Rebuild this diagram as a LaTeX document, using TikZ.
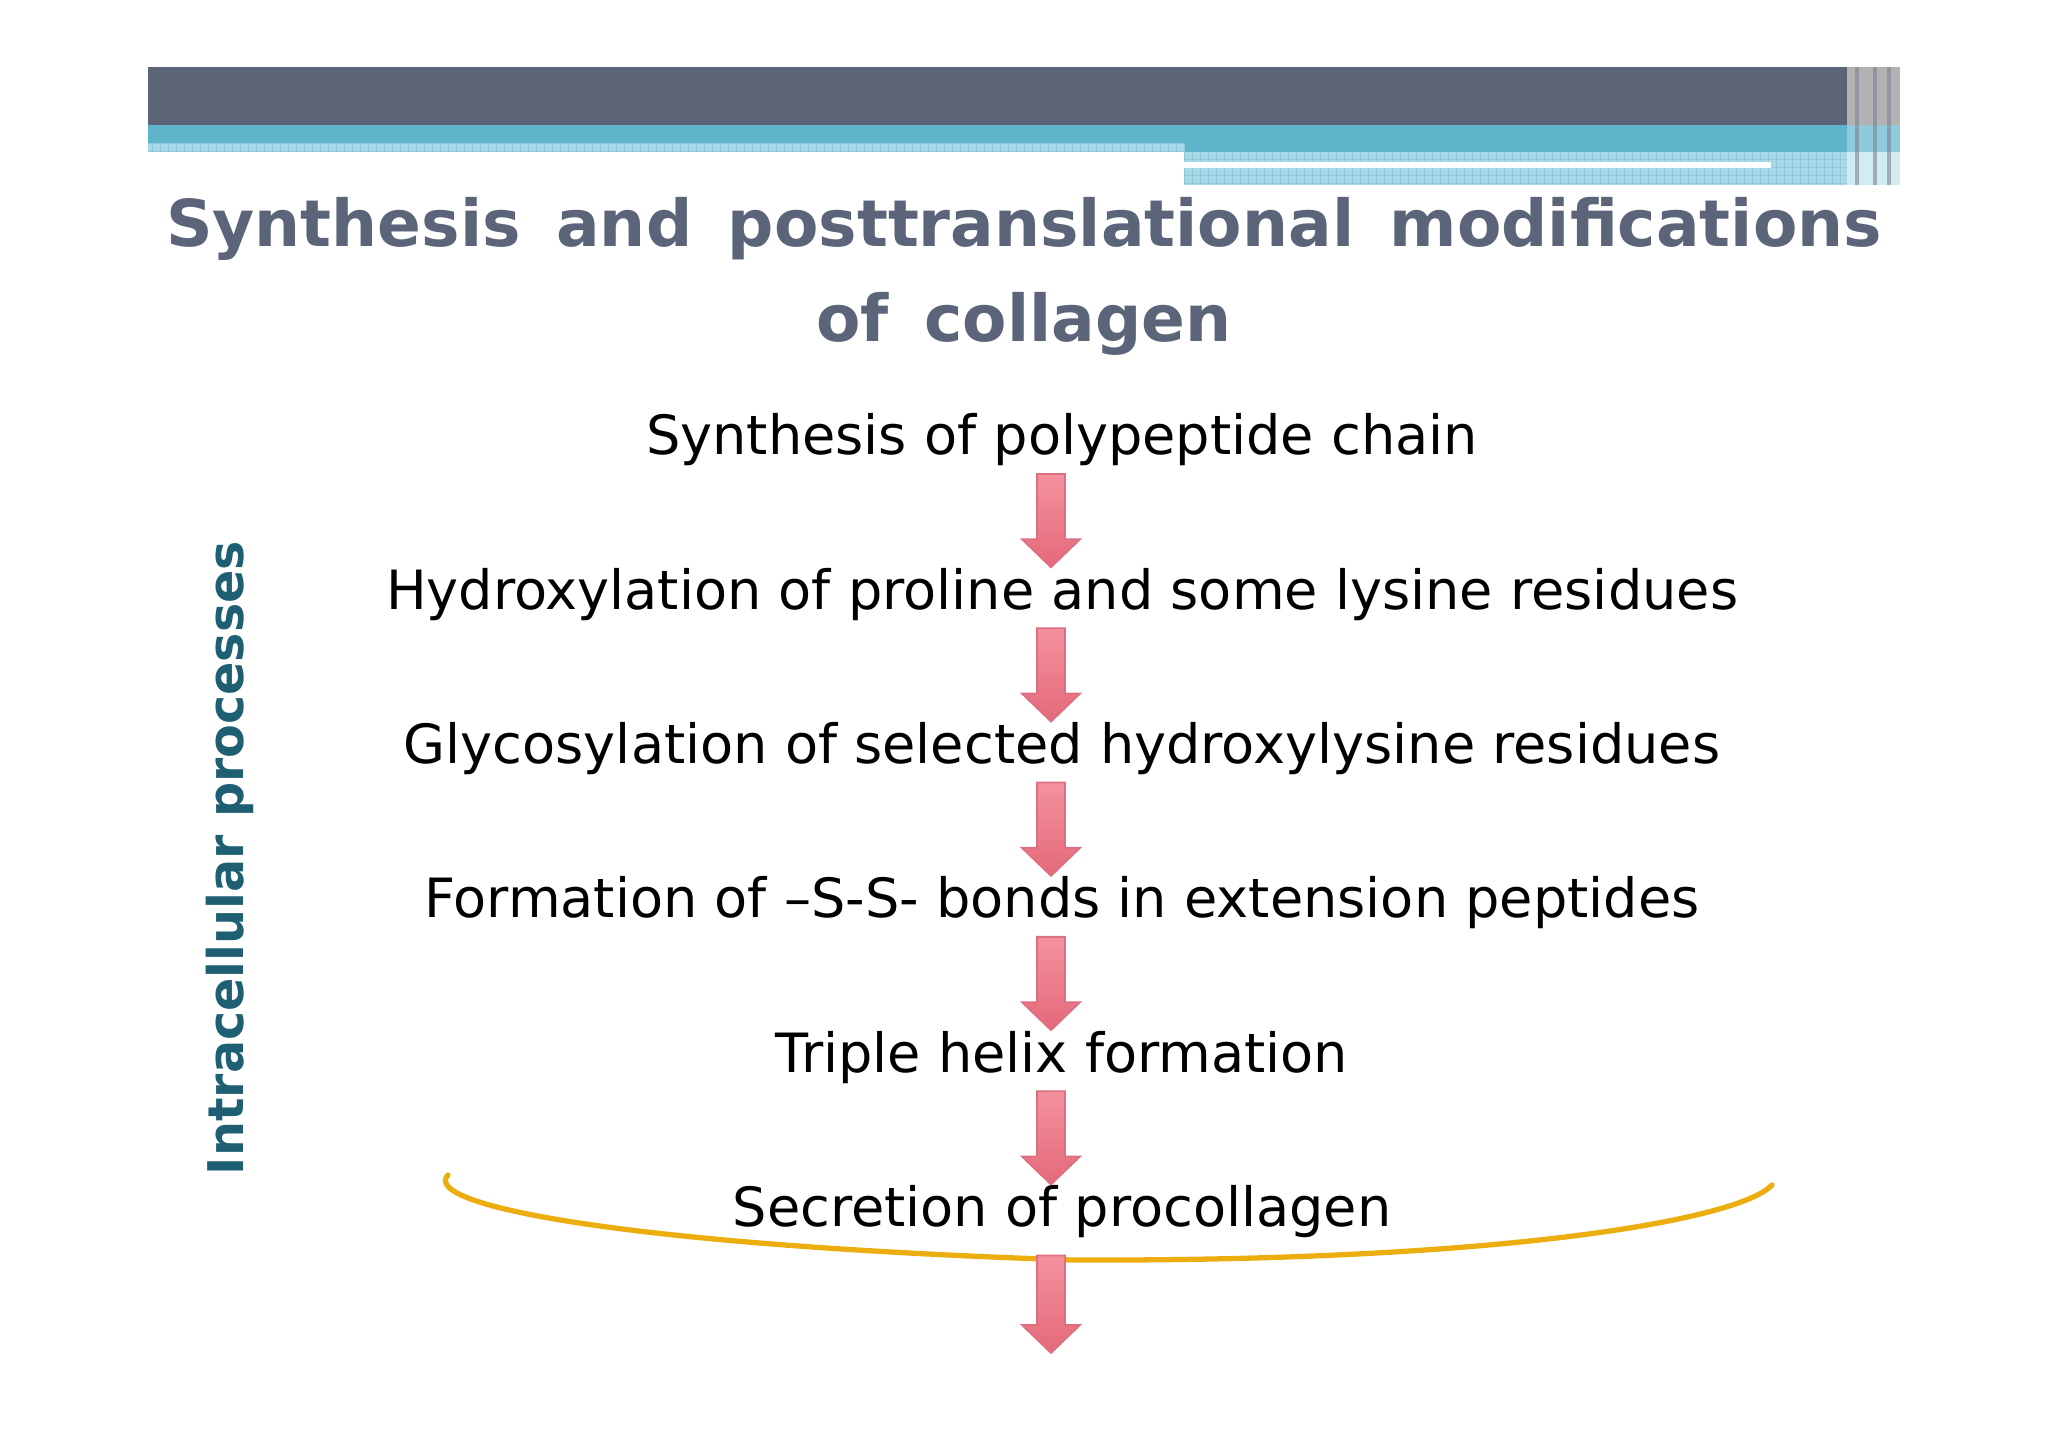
\documentclass[tikz,border=0pt]{standalone}
\usepackage{fontspec}
\setmainfont{DejaVu Sans}
\usetikzlibrary{calc}
\usetikzlibrary{positioning}

\definecolor{barDark}{HTML}{5B6577}
\definecolor{barTeal}{HTML}{5FB4CA}
\definecolor{barLight}{HTML}{A8D9E6}
\definecolor{gridBlue}{HTML}{92CADB}
\definecolor{titleGray}{HTML}{5B6479}
\definecolor{sideTeal}{HTML}{1E5F73}
\definecolor{arrowTop}{HTML}{F4919F}
\definecolor{arrowBot}{HTML}{E4697A}
\definecolor{arrowEdge}{HTML}{DD7080}
\definecolor{braceGold}{HTML}{EBAE0E}

\newcommand{\flowarrow}[2]{%
  \path[top color=arrowTop, bottom color=arrowBot, draw=arrowEdge, line width=0.5pt]
    ($(#1)+(-0.14,0)$) -- ($(#2)+(-0.14,0.28)$) -- ($(#2)+(-0.29,0.28)$) -- (#2)
    -- ($(#2)+(0.29,0.28)$) -- ($(#2)+(0.14,0.28)$) -- ($(#1)+(0.14,0)$) -- cycle;}
\newcommand{\widespace}{\spaceskip=0.55em\relax}

\begin{document}
\begin{tikzpicture}[
    headline/.style={text=titleGray, font=\fontsize{18.4}{22}\selectfont\bfseries\widespace, inner sep=0pt},
    stage/.style={text=black, font=\fontsize{15.4}{18}\selectfont, inner sep=0pt, anchor=base},
    sidelabel/.style={text=sideTeal, font=\fontsize{14}{17}\selectfont\bfseries, inner sep=0pt},
    gridline/.style={draw=gridBlue, line width=0.2pt}]
    \useasboundingbox[fill=white] (0,0) rectangle (20.48,14.47);

    % header bars
    \fill[barDark] (1.48,13.22) rectangle (18.47,13.80);
    \fill[barTeal] (1.48,13.04) rectangle (18.47,13.22);
    \fill[barTeal] (11.84,12.95) rectangle (18.47,13.04);
    \fill[barLight] (1.48,12.95) rectangle (11.84,13.04);
    \fill[barLight] (11.84,12.62) rectangle (18.67,12.95);
    \draw[gridline, step=0.08] (1.48,12.95) grid (11.84,13.04);
    \draw[gridline, step=0.08] (11.84,12.62) grid (18.67,12.95);
    \fill[white] (11.84,12.79) rectangle (17.71,12.85);
    \fill[gray!60] (18.47,13.22) rectangle (19.00,13.80);
    \fill[barTeal!70] (18.47,12.95) rectangle (19.00,13.22);
    \fill[barLight!50] (18.47,12.62) rectangle (19.00,12.95);
    \foreach \x in {18.55,18.73,18.87}
        \fill[barDark!80, opacity=0.6] (\x,12.62) rectangle ++(0.04,1.18);

    % title
    \node[headline, anchor=base] (title1) at (10.24,12.00) {Synthesis and posttranslational modifications};
    \node[headline, anchor=base] (title2) at ($(title1.base)+(0,-0.95)$) {of collagen};

    % steps
    \coordinate (ax) at (10.51,0);
    \def\stages{Synthesis of polypeptide chain, Hydroxylation of proline and some lysine residues,
        Glycosylation of selected hydroxylysine residues, Formation of –S-S- bonds in extension peptides,
        Triple helix formation, Secretion of procollagen}
    \foreach \x[count=\i from 1] in \stages
    {
        \node[stage] (s\i) at (10.62, {9.92-1.543*(\i-1)}) {\x};
    }

    % secretion boundary
    \coordinate (cl) at (4.48,2.72);
    \coordinate (cb) at (10.71,1.87);
    \coordinate (cr) at (17.72,2.62);
    \draw[braceGold, line width=1.5pt, line cap=round]
        (cl) .. controls (4.20,2.42) and (6.20,2.02) .. (cb)
        .. controls (15.00,1.85) and (17.40,2.27) .. (cr);

    % arrows
    \foreach \i/\j in {1/2,2/3,3/4,4/5,5/6}
    {
        \coordinate (t\i) at ($(ax |- s\i.base)+(0,-0.19)$);
        \coordinate (h\i) at ($(ax |- s\j.base)+(0,0.42)$);
        \flowarrow{t\i}{h\i}
    }
    \coordinate (t6) at ($(ax |- s6.base)+(0,-0.29)$);
    \coordinate (exit) at (10.51,0.94);
    \flowarrow{t6}{exit}

    \node[sidelabel, rotate=90] (intra) at (2.30,5.89) {Intracellular processes};
\end{tikzpicture}
\end{document}
